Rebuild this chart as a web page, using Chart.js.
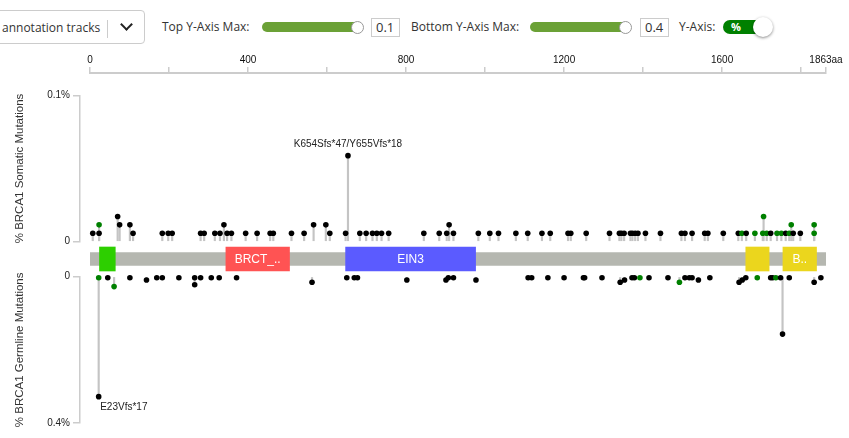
<!DOCTYPE html>
<html>
<head>
<meta charset="utf-8">
<script src="https://cdn.jsdelivr.net/npm/chart.js@4.4.0/dist/chart.umd.min.js"></script>
<style>
body { margin: 0; background: #fff; width: 849px; height: 438px; overflow: hidden; position: relative;
	font-family: "Open Sans", sans-serif; color: #333; }
.abs { position: absolute; }
.lbl { font-size: 12px; line-height: 18px; white-space: nowrap; }
.dd { left: -20px; top: 10px; width: 165px; height: 34px; box-sizing: border-box; border: 1px solid #ccc; border-radius: 4px; }
.sep { left: 107px; top: 20px; width: 1px; height: 18px; background: #ccc; }
.chev { left: 122px; top: 20px; width: 7px; height: 7px; border-right: 2.5px solid #222; border-bottom: 2.5px solid #222; transform: rotate(45deg); }
.track { top: 22px; width: 96px; height: 10px; border-radius: 5px; background: #6ba136; }
.knob { top: 21px; width: 11px; height: 11px; border-radius: 50%; background: #fff; border: 1px solid #999; }
.inp { top: 18px; width: 29px; height: 19px; box-sizing: border-box; border: 1px solid #ccc; font-size: 13px; line-height: 17px; padding-left: 4px; }
.pill { left: 723px; top: 20px; width: 44px; height: 14px; border-radius: 7px; background: #008000; }
.pct { left: 731px; top: 19px; font-size: 11px; line-height: 16px; font-weight: bold; color: #fff; }
.tknob { left: 753px; top: 17px; width: 20px; height: 20px; border-radius: 50%; background: #fff; box-shadow: 0 1px 3px rgba(0,0,0,0.45); }
canvas { position: absolute; left: 0; }
</style>
</head>
<body>
<div class="abs dd"></div>
<div class="abs lbl" style="left:2px; top:19px;">annotation tracks</div>
<div class="abs sep"></div>
<div class="abs chev"></div>
<div class="abs lbl" style="left:162px; top:18px;">Top Y-Axis Max:</div>
<div class="abs track" style="left:262px;"></div>
<div class="abs knob" style="left:351px;"></div>
<div class="abs inp" style="left:371px;">0.1</div>
<div class="abs lbl" style="left:411px; top:18px;">Bottom Y-Axis Max:</div>
<div class="abs track" style="left:530px;"></div>
<div class="abs knob" style="left:619px;"></div>
<div class="abs inp" style="left:640px;">0.4</div>
<div class="abs lbl" style="left:679px; top:18px;">Y-Axis:</div>
<div class="abs pill"></div>
<div class="abs pct">%</div>
<div class="abs tknob"></div>

<canvas id="ruler" width="849" height="40" style="top:43px"></canvas>
<canvas id="somatic" width="849" height="172" style="top:80px"></canvas>
<canvas id="domains" width="849" height="36" style="top:241px"></canvas>
<canvas id="germline" width="849" height="172" style="top:262px"></canvas>

<script>
// protein
var proteinLength = 1863;
var rulerTicks = [0, 200, 400, 600, 800, 1000, 1200, 1400, 1600, 1800, 1863];

// pfam domains
var domainLabels = ['', 'BRCT_..', 'EIN3', '', 'B..'];
var domainStart = [24, 344, 647, 1660, 1754];
var domainEnd = [64, 505, 976, 1719, 1839];
var domainColors = ['#2dcf00', '#ff5353', '#5b5bff', '#ebd61d', '#ebd61d'];

// T = truncating (black), M = missense (green)
var typeColors = { T: '#000000', M: '#008000' };

// somatic mutations, % of samples
var somaticPos = [7, 23, 23, 70, 75, 101, 109, 183, 198, 208, 280, 289, 316, 329, 339, 347, 358, 394, 423, 456,
	464, 510, 542, 566, 597, 607, 647, 653, 683, 699, 715, 726, 738, 756, 845, 884, 903, 909, 920, 983,
	1012, 1034, 1078, 1108, 1144, 1165, 1210, 1217, 1256, 1315, 1340, 1345, 1352, 1368, 1373, 1380, 1387, 1406, 1444, 1497,
	1506, 1524, 1556, 1564, 1603, 1641, 1650, 1661, 1683, 1703, 1705, 1713, 1723, 1739, 1750, 1761, 1770, 1775, 1780, 1798,
	1833, 1833];
var somaticPct = [0.0057, 0.0057, 0.0114, 0.0171, 0.0114, 0.0114, 0.0057, 0.0057, 0.0057, 0.0057, 0.0057, 0.0057, 0.0057, 0.0057, 0.0114, 0.0057, 0.0057, 0.0057, 0.0057, 0.0057,
	0.0057, 0.0057, 0.0057, 0.0114, 0.0114, 0.0057, 0.0057, 0.0588, 0.0057, 0.0057, 0.0057, 0.0057, 0.0057, 0.0057, 0.0057, 0.0057, 0.0057, 0.0114, 0.0057, 0.0057,
	0.0057, 0.0057, 0.0057, 0.0057, 0.0057, 0.0057, 0.0057, 0.0057, 0.0057, 0.0057, 0.0057, 0.0057, 0.0057, 0.0057, 0.0057, 0.0057, 0.0057, 0.0057, 0.0057, 0.0057,
	0.0057, 0.0057, 0.0057, 0.0057, 0.0057, 0.0057, 0.0057, 0.0057, 0.0057, 0.0057, 0.0171, 0.0057, 0.0057, 0.0057, 0.0057, 0.0057, 0.0057, 0.0114, 0.0057, 0.0057,
	0.0057, 0.0114];
var somaticType = ['T', 'T', 'M', 'T', 'T', 'T', 'T', 'T', 'T', 'T', 'T', 'T', 'T', 'T', 'T', 'T', 'T', 'T', 'T', 'T',
	'T', 'T', 'T', 'T', 'T', 'T', 'T', 'T', 'T', 'T', 'T', 'T', 'T', 'T', 'T', 'T', 'T', 'T', 'T', 'T',
	'T', 'T', 'T', 'T', 'T', 'T', 'T', 'T', 'T', 'T', 'T', 'T', 'T', 'T', 'T', 'T', 'T', 'T', 'T', 'T',
	'T', 'T', 'T', 'T', 'T', 'T', 'M', 'T', 'M', 'M', 'M', 'M', 'T', 'M', 'M', 'T', 'M', 'M', 'T', 'T',
	'M', 'M'];
var somaticLabelPos = [653];
var somaticLabelText = ['K654Sfs*47/Y655Vfs*18'];

// germline mutations, % of samples
var germlinePos = [22, 22, 45, 61, 101, 143, 169, 183, 225, 265, 265, 280, 307, 327, 371, 562, 650, 669, 677, 802,
	901, 907, 920, 977, 1109, 1118, 1159, 1200, 1249, 1252, 1296, 1342, 1353, 1372, 1378, 1392, 1415, 1463, 1492, 1506,
	1517, 1524, 1540, 1569, 1643, 1651, 1660, 1689, 1723, 1728, 1736, 1748, 1753, 1770, 1833, 1850];
var germlinePct = [0.0027, 0.328, 0.0027, 0.027, 0.0027, 0.009, 0.0027, 0.0027, 0.0027, 0.0027, 0.022, 0.0027, 0.0027, 0.0027, 0.0027, 0.0153, 0.0027, 0.0027, 0.0027, 0.009,
	0.009, 0.0027, 0.0027, 0.009, 0.0027, 0.0027, 0.0027, 0.0027, 0.0027, 0.0027, 0.0027, 0.0153, 0.009, 0.0027, 0.0027, 0.0027, 0.0027, 0.0027, 0.0153, 0.0027,
	0.0027, 0.0027, 0.009, 0.0027, 0.0153, 0.009, 0.0027, 0.0027, 0.0027, 0.0027, 0.0027, 0.0027, 0.157, 0.0027, 0.0153, 0.0027];
var germlineType = ['M', 'T', 'T', 'M', 'T', 'T', 'T', 'T', 'T', 'T', 'T', 'T', 'T', 'T', 'T', 'T', 'T', 'T', 'T', 'T',
	'T', 'T', 'T', 'T', 'T', 'T', 'T', 'T', 'T', 'T', 'T', 'T', 'T', 'T', 'T', 'M', 'T', 'T', 'M', 'T',
	'T', 'T', 'T', 'T', 'T', 'T', 'T', 'M', 'T', 'T', 'M', 'T', 'T', 'T', 'T', 'T'];
var germlineLabelPos = [22];
var germlineLabelText = ['E23Vfs*17'];

var AXIS_GREY = '#cccccc';
var STEM_GREY = '#c4c4c4';
var TEXT_FONT = 'Liberation Sans, Arial, sans-serif';
// x range padded so that aa 0 sits 10px right of the y axis line
var X_MIN = -25.3;

Chart.defaults.animation = false;
Chart.defaults.responsive = false;
Chart.defaults.plugins.legend.display = false;
Chart.defaults.plugins.tooltip.enabled = false;

// ruler on top
new Chart(document.getElementById('ruler'), {
	type: 'scatter',
	data: { datasets: [ { data: [] } ] },
	options: {
		layout: { padding: { left: 90, right: 23, top: 0, bottom: 0 } },
		scales: {
			x: {
				type: 'linear', position: 'top', min: 0, max: proteinLength,
				afterBuildTicks: function(scale) {
					scale.ticks = rulerTicks.map(function(v) { return { value: v }; });
				},
				afterFit: function(scale) { scale.height = 30; },
				ticks: {
					autoSkip: false, maxRotation: 0, padding: 1, color: '#111',
					font: { family: TEXT_FONT, size: 10 },
					callback: function(value) {
						if (value === proteinLength) return proteinLength + 'aa';
						return value % 400 === 0 ? String(value) : '';
					}
				},
				grid: { drawOnChartArea: false, tickLength: 6, color: AXIS_GREY, lineWidth: 1.5 },
				border: { color: AXIS_GREY, width: 2 }
			},
			y: { display: false }
		}
	}
});

// protein backbone + domains
var domainSets = domainStart.map(function(start, i) {
	return {
		data: [ [ start, domainEnd[i] ] ],
		backgroundColor: domainColors[i],
		barThickness: 24,
		grouped: false,
		borderWidth: 0
	};
});
domainSets.push({
	data: [ [ 0, proteinLength ] ],
	backgroundColor: '#b5b7b0',
	barThickness: 13,
	grouped: false,
	borderWidth: 0
});

new Chart(document.getElementById('domains'), {
	type: 'bar',
	data: { labels: [ 'BRCA1' ], datasets: domainSets },
	options: {
		indexAxis: 'y',
		layout: { padding: { left: 90, right: 23, top: 0, bottom: 0 } },
		scales: {
			x: { type: 'linear', min: 0, max: proteinLength, display: false },
			y: { display: false }
		}
	},
	plugins: [ {
		id: 'domainText',
		afterDatasetsDraw: function(chart) {
			var ctx = chart.ctx;
			ctx.save();
			ctx.fillStyle = '#fff';
			ctx.font = '12px ' + TEXT_FONT;
			ctx.textAlign = 'center';
			ctx.textBaseline = 'middle';
			domainLabels.forEach(function(text, i) {
				if (!text) return;
				var bar = chart.getDatasetMeta(i).data[0];
				ctx.fillText(text, (bar.x + bar.base) / 2, bar.y + 1);
			});
			ctx.restore();
		}
	} ]
});

function lollipop(canvasId, pos, pct, type, yMax, reverse, title, pad, labelPos, labelText, below) {
	var points = pos.map(function(x, i) { return { x: x, y: pct[i] }; });
	return new Chart(document.getElementById(canvasId), {
		type: 'scatter',
		data: {
			datasets: [ {
				type: 'scatter',
				data: points,
				pointRadius: 2.8,
				pointBorderWidth: 0,
				pointBackgroundColor: type.map(function(t) { return typeColors[t]; }),
				clip: false
			}, {
				type: 'bar',
				data: points,
				backgroundColor: STEM_GREY,
				barThickness: 1.5,
				borderWidth: 0,
				clip: false
			} ]
		},
		options: {
			layout: { padding: { left: 0, right: 23, top: pad[0], bottom: pad[1] } },
			scales: {
				x: { type: 'linear', min: X_MIN, max: proteinLength, display: false, offset: false },
				y: {
					type: 'linear', min: 0, max: yMax, reverse: reverse,
					afterBuildTicks: function(scale) {
						scale.ticks = [ { value: 0 }, { value: yMax } ];
					},
					afterFit: function(scale) { scale.width = 80; },
					ticks: {
						padding: 3, color: '#222',
						font: { family: TEXT_FONT, size: 10 },
						callback: function(v) { return v === 0 ? '0' : v + '%'; }
					},
					grid: { drawOnChartArea: false, tickLength: 7, color: AXIS_GREY, lineWidth: 1.5 },
					border: { color: AXIS_GREY, width: 1.5 },
					title: {
						display: true, text: title, color: '#333',
						font: { family: TEXT_FONT, size: 11.5 },
						padding: { top: 13, bottom: 0 }
					}
				}
			}
		},
		plugins: [ {
			id: 'mutLabels',
			afterDatasetsDraw: function(chart) {
				var ctx = chart.ctx;
				ctx.save();
				ctx.fillStyle = '#222';
				ctx.font = '10px ' + TEXT_FONT;
				ctx.textBaseline = 'middle';
				ctx.textAlign = below ? 'left' : 'center';
				labelPos.forEach(function(p, i) {
					var top = 0;
					pos.forEach(function(x, j) { if (x === p && pct[j] > top) top = pct[j]; });
					var px = chart.scales.x.getPixelForValue(p);
					var py = chart.scales.y.getPixelForValue(top);
					ctx.fillText(labelText[i], below ? px + 1.5 : px, below ? py + 11 : py - 11);
				});
				ctx.restore();
			}
		} ]
	});
}

lollipop('somatic', somaticPos, somaticPct, somaticType, 0.1, false,
	'% BRCA1 Somatic Mutations', [ 15.5, 10.5 ], somaticLabelPos, somaticLabelText, false);
lollipop('germline', germlinePos, germlinePct, germlineType, 0.4, true,
	'% BRCA1 Germline Mutations', [ 14.7, 11 ], germlineLabelPos, germlineLabelText, true);
</script>
</body>
</html>
